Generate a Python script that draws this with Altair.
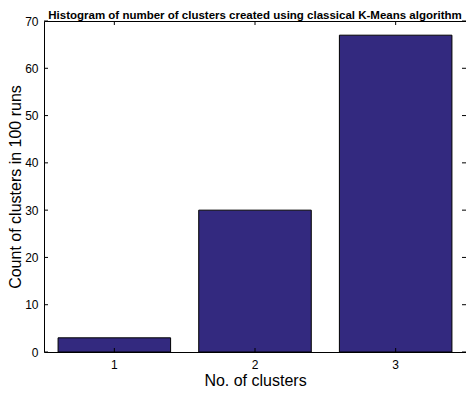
import altair as alt
import pandas as pd

clusters = [1, 2, 3]
counts = [3, 30, 67]
y_ticks = [0, 10, 20, 30, 40, 50, 60, 70]

title_text = "Histogram of number of clusters created using classical K-Means algorithm"
x_title = "No. of clusters"
y_title = "Count of clusters in 100 runs"

W, H = 422, 331
FONT = "Liberation Sans"

bars_df = pd.DataFrame({"cluster": clusters, "count": counts})
yt_df = pd.DataFrame({"v": y_ticks})
xt_df = pd.DataFrame({"cluster": clusters})

x_scale = alt.Scale(paddingInner=0.2, paddingOuter=0.1)
y_scale = alt.Scale(domain=[0, 70], nice=False)

bars = alt.Chart(bars_df).mark_bar(
    color="#33297f", stroke="#000000", strokeWidth=1
).encode(
    x=alt.X("cluster:O", scale=x_scale, title=x_title,
            axis=alt.Axis(labelAngle=0, tickSize=0, domain=False, labelPadding=7,
                          labelFontSize=12, titleFontSize=16, titlePadding=2,
                          labelColor="#000", titleColor="#000",
                          labelFont=FONT, titleFont=FONT, titleFontWeight="normal")),
    y=alt.Y("count:Q", scale=y_scale, title=y_title,
            axis=alt.Axis(values=y_ticks, tickSize=0, domain=False, grid=False,
                          labelPadding=6, labelFontSize=12, titleFontSize=16,
                          titlePadding=1, labelColor="#000", titleColor="#000",
                          labelFont=FONT, titleFont=FONT, titleFontWeight="normal")),
)

yt_left = alt.Chart(yt_df).mark_rule(color="#000", strokeWidth=1).encode(
    y=alt.Y("v:Q", scale=y_scale), x=alt.value(0), x2=alt.value(4)
)
yt_right = alt.Chart(yt_df).mark_rule(color="#000", strokeWidth=1).encode(
    y=alt.Y("v:Q", scale=y_scale), x=alt.value(W - 4), x2=alt.value(W)
)
xt_top = alt.Chart(xt_df).mark_rule(color="#000", strokeWidth=1).encode(
    x=alt.X("cluster:O", scale=x_scale, bandPosition=0.5), y=alt.value(0), y2=alt.value(4)
)
xt_bottom = alt.Chart(xt_df).mark_rule(color="#000", strokeWidth=1).encode(
    x=alt.X("cluster:O", scale=x_scale, bandPosition=0.5), y=alt.value(H - 4), y2=alt.value(H)
)

chart = alt.layer(bars, yt_left, yt_right, xt_top, xt_bottom).properties(
    width=W, height=H,
    title=alt.TitleParams(title_text, font=FONT, fontSize=11.5, fontWeight="bold",
                          color="#000", anchor="middle", frame="group", offset=-6),
    autosize=alt.AutoSizeParams(type="none"),
    padding={"left": 36, "top": 13, "right": 0, "bottom": 36},
    background="white",
).configure_view(stroke="#000000", strokeWidth=1)

chart.save("out.html", embed_options={"renderer": "svg", "actions": False})
